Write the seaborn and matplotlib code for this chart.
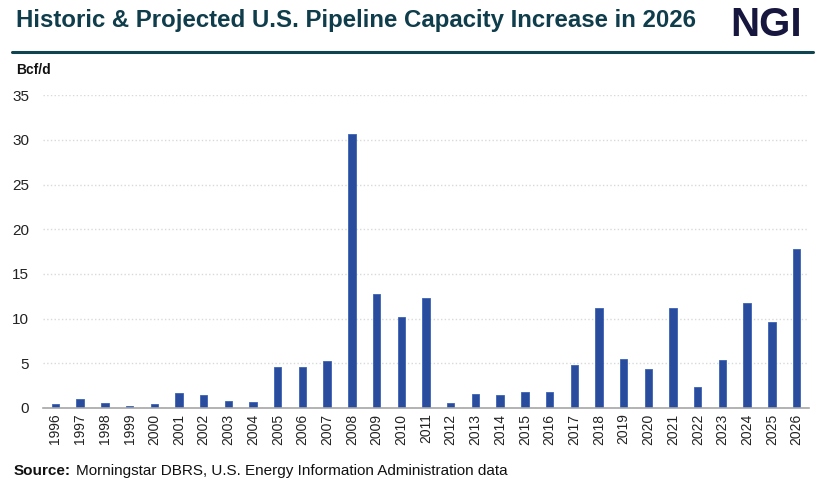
import pandas as pd
import matplotlib.pyplot as plt
import seaborn as sns

# Pipeline capacity additions, Bcf/d
years = [str(y) for y in range(1996, 2027)]
capacity = [0.4, 1.0, 0.6, 0.2, 0.4, 1.7, 1.5, 0.8, 0.7, 4.6,
            4.6, 5.2, 30.6, 12.8, 10.2, 12.3, 0.6, 1.6, 1.4, 1.8,
            1.8, 4.8, 11.2, 5.5, 4.4, 11.2, 2.4, 5.4, 11.7, 9.6,
            17.8]
y_ticks = [0, 5, 10, 15, 20, 25, 30, 35]

df = pd.DataFrame({'year': years, 'capacity': capacity})

sns.set_style('white')
plt.rcParams['font.family'] = ['Liberation Sans', 'DejaVu Sans']

fig = plt.figure(figsize=(8.28, 4.88), dpi=100)
ax = fig.add_axes([0.052, 0.164, 0.925, 0.641])

sns.barplot(data=df, x='year', y='capacity', color='#2a4c9c', width=0.3,
            edgecolor='#3b63b8', linewidth=0.6, saturation=1, ax=ax)

ax.set_ylim(0, 35)
ax.set_xlim(-0.5, len(years) - 0.5)
ax.set_yticks(y_ticks)
ax.yaxis.grid(True, color='#d9d9d9', linestyle=':', linewidth=1)
ax.set_axisbelow(True)
for s in ['top', 'right', 'left']:
    ax.spines[s].set_visible(False)
ax.spines['bottom'].set_color('#a6a6a6')
ax.spines['bottom'].set_linewidth(1.2)
ax.tick_params(axis='y', length=0, pad=10, labelsize=11, labelcolor='#222222')
ax.tick_params(axis='x', length=0, pad=4, labelsize=10, labelcolor='#222222', rotation=90)
ax.set_xlabel('')
ax.set_ylabel('')

# header
fig.text(0.019, 0.958, 'Historic & Projected U.S. Pipeline Capacity Increase in 2026',
         fontsize=17.3, fontweight='bold', color='#0f3d4c', va='center', ha='left')
fig.text(0.968, 0.948, 'NGI', fontsize=29, fontweight='bold', color='#16163f',
         va='center', ha='right')
fig.add_artist(plt.Line2D([0.015, 0.982], [0.893, 0.893], color='#0f4450',
                          linewidth=2.2, transform=fig.transFigure))
fig.text(0.019, 0.857, 'Bcf/d', fontsize=10, fontweight='bold', color='#111111',
         va='center', ha='left')

# source
fig.text(0.017, 0.035, 'Source:', fontsize=11, fontweight='bold', color='#111111',
         va='center', ha='left')
fig.text(0.092, 0.035, 'Morningstar DBRS, U.S. Energy Information Administration data',
         fontsize=11, color='#111111', va='center', ha='left')

fig.savefig('out.png', dpi=100)
